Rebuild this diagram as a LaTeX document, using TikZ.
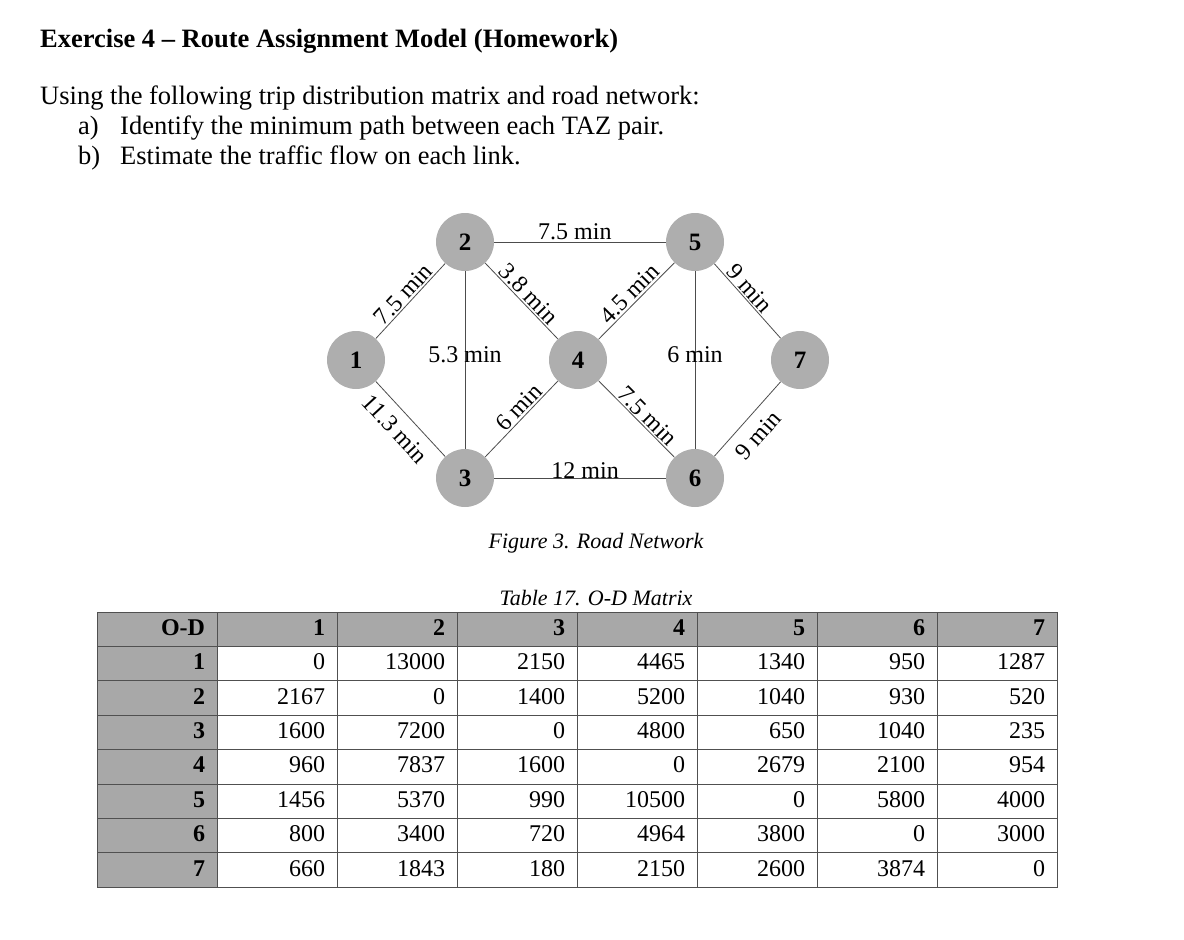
\documentclass[tikz,border=0pt]{standalone}
\usepackage{fontspec}
\setmainfont{Liberation Serif}
\usetikzlibrary{positioning}
\definecolor{taznode}{HTML}{AEAEAE}
\definecolor{headgray}{HTML}{A8A8A8}
\definecolor{gridline}{HTML}{505050}

\begin{document}
\begin{tikzpicture}[x=1pt,y=-1pt,
		taz/.style={circle,fill=taznode,minimum size=58pt,inner sep=0pt,
				font=\fontsize{25}{25}\selectfont\bfseries},
		link/.style={draw=black!70,line width=0.8pt},
		tt/.style={font=\fontsize{24}{24}\selectfont,inner sep=1.5pt},
		txt/.style={anchor=base west,inner sep=0pt,font=\fontsize{26.5}{30}\selectfont},
		capt/.style={inner sep=0pt,font=\fontsize{22}{26}\selectfont\itshape},
		cell/.style={draw=gridline,line width=1pt,minimum width=120pt,minimum height=34.4pt,
				text width=96pt,align=right,inner xsep=12pt,inner ysep=0pt,
				text height=16pt,text depth=4pt,font=\fontsize{24}{26}\selectfont},
	]
	\useasboundingbox (0,0) rectangle (1184,940);
	% heading and task
	\node[txt,font=\fontsize{26.5}{30}\selectfont\bfseries] (title) at (40,47) {Exercise 4 -- Route Assignment Model (Homework)};
	\node[txt] (intro) at (40,104) {Using the following trip distribution matrix and road network:};
	\node[txt] (taska) at (78,134) {\makebox[42pt][l]{a)}Identify the minimum path between each TAZ pair.};
	\node[txt] (taskb) at (78,164) {\makebox[42pt][l]{b)}Estimate the traffic flow on each link.};

	% road network
	\node[taz] (n1) at (356,360) {1};
	\node[taz] (n2) at (465,242) {2};
	\node[taz] (n3) at (465,478) {3};
	\node[taz] (n4) at (578,360) {4};
	\node[taz] (n5) at (695,242) {5};
	\node[taz] (n6) at (695,478) {6};
	\node[taz] (n7) at (800,360) {7};
	\draw[link] (n1) -- node[tt,sloped,above] (l12) {7.5 min} (n2);
	\draw[link] (n1) -- node[tt,sloped,below=8pt,pos=0.47] (l13) {11.3 min} (n3);
	\draw[link] (n2) -- node[tt,pos=0.47] (l23) {5.3 min} (n3);
	\draw[link] (n2) -- node[tt,sloped,above] (l24) {3.8 min} (n4);
	\draw[link] (n2) -- node[tt,above,pos=0.47] (l25) {7.5 min} (n5);
	\draw[link] (n3) -- node[tt,sloped,above,pos=0.56] (l34) {6 min} (n4);
	\draw[link] (n3) -- node[tt,above=-2pt,pos=0.53] (l36) {12 min} (n6);
	\draw[link] (n4) -- node[tt,sloped,above] (l45) {4.5 min} (n5);
	\draw[link] (n4) -- node[tt,sloped,above,pos=0.55] (l46) {7.5 min} (n6);
	\draw[link] (n5) -- node[tt,pos=0.47] (l56) {6 min} (n6);
	\draw[link] (n5) -- node[tt,sloped,above,pos=0.42] (l57) {9 min} (n7);
	\draw[link] (n6) -- node[tt,sloped,below=9pt,pos=0.45] (l67) {9 min} (n7);
	\node[capt] (figcap) at (596,543) {Figure 3. Road Network};
	\node[capt] (tabcap) at (596,598) {Table 17. O-D Matrix};

	% O-D matrix
	\foreach [count=\r] \rowvals in {{O-D,1,2,3,4,5,6,7},
			{1,0,13000,2150,4465,1340,950,1287},
			{2,2167,0,1400,5200,1040,930,520},
			{3,1600,7200,0,4800,650,1040,235},
			{4,960,7837,1600,0,2679,2100,954},
			{5,1456,5370,990,10500,0,5800,4000},
			{6,800,3400,720,4964,3800,0,3000},
			{7,660,1843,180,2150,2600,3874,0}}
	\foreach [count=\c] \v in \rowvals {
			\ifnum\r=1 \def\cf{headgray}\def\cw{\bfseries}\else
				\ifnum\c=1 \def\cf{headgray}\def\cw{\bfseries}\else
					\def\cf{white}\def\cw{}\fi\fi
			\node[cell,fill=\cf] (od-\r-\c) at ({37+120*\c},{594.8+34.4*\r}) {\cw\v};
		}
\end{tikzpicture}
\end{document}
